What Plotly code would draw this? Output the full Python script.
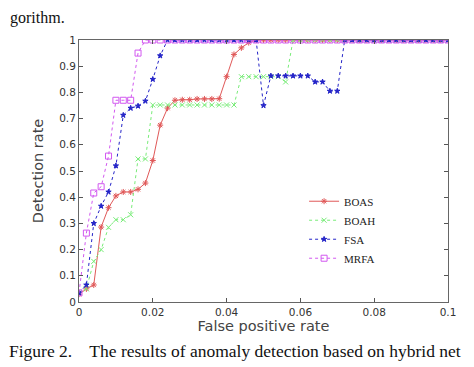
import plotly.graph_objects as go

fpr = [round(i * 0.002, 3) for i in range(51)]

boas = [0.03, 0.05, 0.065, 0.286, 0.36, 0.405, 0.42, 0.42, 0.43, 0.454,
        0.54, 0.675, 0.74, 0.77, 0.772, 0.772, 0.775, 0.775, 0.775, 0.776,
        0.86, 0.945, 0.97, 0.99] + [1.0] * 27
boah = [0.035, 0.05, 0.155, 0.2, 0.285, 0.314, 0.314, 0.333, 0.546, 0.546,
        0.752, 0.752, 0.752, 0.752, 0.752, 0.752, 0.752, 0.752, 0.752, 0.752,
        0.752, 0.752, 0.86, 0.86, 0.86, 0.86, 0.86, 0.86, 0.84] + [1.0] * 22
fsa = [0.035, 0.065, 0.30, 0.366, 0.42, 0.52, 0.713, 0.74, 0.748, 0.767,
       0.85, 0.94] + [1.0] * 13 + [0.75, 0.863, 0.863, 0.863, 0.863, 0.863, 0.863,
       0.84, 0.84, 0.805, 0.805] + [1.0] * 15
mrfa = [0.035, 0.263, 0.416, 0.44, 0.557, 0.77, 0.77, 0.77, 0.95] + [1.0] * 42

names = ["BOAS", "BOAH", "FSA", "MRFA"]
xticks = [0, 0.02, 0.04, 0.06, 0.08, 0.1]
xticklabels = ["0", "0.02", "0.04", "0.06", "0.08", "0.1"]
yticks = [0, 0.1, 0.2, 0.3, 0.4, 0.5, 0.6, 0.7, 0.8, 0.9, 1]
yticklabels = ["0", "0.1", "0.2", "0.3", "0.4", "0.5", "0.6", "0.7", "0.8", "0.9", "1"]

styles = [
    dict(color="#e05858", dash="solid", symbol="asterisk-open", size=5),
    dict(color="#78ec78", dash="dot", symbol="x-thin-open", size=5),
    dict(color="#2424c8", dash="dot", symbol="star", size=4),
    dict(color="#d258f0", dash="dot", symbol="square-open", size=6),
]

fig = go.Figure()
for name, ys, st in zip(names, [boas, boah, fsa, mrfa], styles):
    fig.add_trace(go.Scatter(
        x=fpr, y=ys, name=name, mode="lines+markers",
        line=dict(color=st["color"], width=1, dash=st["dash"]),
        marker=dict(symbol=st["symbol"], size=st["size"], color=st["color"],
                    line=dict(color=st["color"], width=1)),
    ))

axis_common = dict(showgrid=False, zeroline=False, showline=True, linecolor="#666",
                   linewidth=1, mirror="ticks", ticks="inside", ticklen=4,
                   tickcolor="#555", tickfont=dict(family="DejaVu Sans", size=10.5, color="#333"))
fig.update_xaxes(range=[0, 0.1], tickvals=xticks, ticktext=xticklabels,
                 title=dict(text="False positive rate", font=dict(family="DejaVu Sans", size=14.5, color="#444"), standoff=4),
                 **axis_common)
fig.update_yaxes(range=[0, 1], tickvals=yticks, ticktext=yticklabels,
                 title=dict(text="Detection rate", font=dict(family="DejaVu Sans", size=14.5, color="#444"), standoff=12),
                 **axis_common)

fig.update_layout(
    width=474, height=367,
    margin=dict(l=71, r=34, t=32, b=73),
    paper_bgcolor="white", plot_bgcolor="white",
    legend=dict(x=0.61, y=0.44, xanchor="left", yanchor="top",
                font=dict(family="Liberation Serif", size=11, color="#222"),
                bgcolor="rgba(0,0,0,0)", tracegroupgap=0),
    annotations=[
        dict(text="gorithm.", xref="paper", yref="paper", x=-0.192, y=1.125,
             xanchor="left", yanchor="top", showarrow=False,
             font=dict(family="Liberation Serif", size=16, color="#111")),
        dict(text="Figure 2.    The results of anomaly detection based on hybrid net",
             xref="paper", yref="paper", x=-0.195, y=-0.142, xanchor="left", yanchor="top",
             showarrow=False, font=dict(family="Liberation Serif", size=17.5, color="#111")),
    ],
)

fig.write_html("out.html")
